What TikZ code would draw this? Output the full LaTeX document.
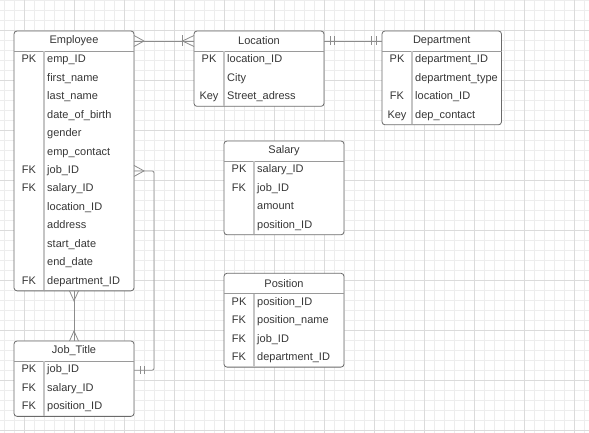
\documentclass[tikz,border=0pt]{standalone}
\usepackage{fontspec}
\setmainfont{Liberation Sans}
\usetikzlibrary{calc}
\definecolor{gridminor}{HTML}{EDEDED}
\definecolor{gridmajor}{HTML}{DBDBDB}
\definecolor{boxborder}{HTML}{6A6A6A}
\definecolor{headsep}{HTML}{9A9A9A}
\definecolor{colsep}{HTML}{C4C4C4}
\definecolor{txt}{HTML}{363636}
\definecolor{connclr}{HTML}{8C8C8C}
\tikzset{
  tablebox/.style={draw=boxborder, fill=white, line width=0.8pt, rounded corners=3pt, inner sep=0pt, outer sep=0pt},
  tabletext/.style={text=txt, inner sep=0pt, font=\fontsize{11}{13}\selectfont},
  headline/.style={draw=headsep, line width=0.8pt},
  colline/.style={draw=colsep, line width=1.1pt},
  conn/.style={draw=connclr, line width=0.8pt},
  gridthin/.style={draw=gridminor, line width=0.8pt},
  gridthick/.style={draw=gridmajor, line width=0.8pt},
}
% #1 name, #2 left, #3 top, #4 width, #5 rows, #6 title, #7 key/field list
\newcommand\ertable[7]{%
  \pgfmathsetmacro\erth{20+18.45*#5}%
  \node[tablebox, minimum width=#4pt, minimum height=\erth pt, anchor=north west] (#1) at (#2,#3) {};
  \node[tabletext] (#1-title) at ($(#1.north)+(0,10)$) {#6};
  \draw[headline] (#2,#3+20) -- (#2+#4,#3+20);
  \draw[colline] (#2+30,#3+20.4) -- (#2+30,#3+\erth-0.4);
  \foreach \k/\f [count=\i] in {#7} {
    \node[tabletext] (#1-k\i) at (#2+15,#3+20+18.45*\i-9.22) {\strut\k};
    \node[tabletext, anchor=west] (#1-r\i) at (#2+33,#3+20+18.45*\i-9.22) {\strut\f};
  }
}
\begin{document}
\begin{tikzpicture}[x=1pt,y=-1pt]
\useasboundingbox (0,0) rectangle (589,433);
\fill[white] (0,0) rectangle (589,433);
% grid
\foreach \gx in {0,...,58} \draw[gridthin] (4.3+10*\gx,0) -- (4.3+10*\gx,433);
\foreach \gy in {0,...,43} \draw[gridthin] (0,10*\gy) -- (589,10*\gy);
\foreach \gx in {0,...,11} \draw[gridthick] (24.3+50*\gx,0) -- (24.3+50*\gx,433);
\foreach \gy in {0,...,8} \draw[gridthick] (0,30+50*\gy) -- (589,30+50*\gy);

% tables
\ertable{emp}{14}{31}{120}{13}{Employee}{PK/emp\_ID, {}/first\_name, {}/last\_name, {}/date\_of\_birth, {}/gender, {}/emp\_contact, FK/job\_ID, FK/salary\_ID, {}/location\_ID, {}/address, {}/start\_date, {}/end\_date, FK/department\_ID}
\ertable{loc}{194}{31}{130}{3}{Location}{PK/location\_ID, {}/City, Key/Street\_adress}
\ertable{dept}{382}{31}{119.5}{4}{Department}{PK/department\_ID, {}/department\_type, FK/location\_ID, Key/dep\_contact}
\ertable{sal}{224}{141}{120}{4}{Salary}{PK/salary\_ID, FK/job\_ID, {}/amount, {}/position\_ID}
\ertable{pos}{224}{273.3}{120}{4}{Position}{PK/position\_ID, FK/position\_name, FK/job\_ID, FK/department\_ID}
\ertable{jt}{14}{341}{120}{3}{Job\_Title}{PK/job\_ID, FK/salary\_ID, FK/position\_ID}

% connector Employee -- Location
\coordinate (c1a) at ($(emp.north east)+(0,10)$);
\coordinate (c1b) at ($(loc.north west)+(0,10)$);
\draw[conn] (c1a) -- (c1b);
\draw[conn] ($(c1a)+(0,-5.5)$) -- ($(c1a)+(10,0)$) -- ($(c1a)+(0,5.5)$);
\draw[conn] ($(c1b)+(-11.5,-5.5)$) -- ($(c1b)+(-11.5,5.5)$);
\draw[conn] ($(c1b)+(0,-5.5)$) -- ($(c1b)+(-11.5,0)$) -- ($(c1b)+(0,5.5)$);

% connector Location -- Department
\coordinate (c2a) at ($(loc.north east)+(0,10)$);
\coordinate (c2b) at ($(dept.north west)+(0,10)$);
\draw[conn] (c2a) -- (c2b);
\draw[conn] ($(c2a)+(6,-4.5)$) -- ($(c2a)+(6,4.5)$);
\draw[conn] ($(c2a)+(10.5,-4.5)$) -- ($(c2a)+(10.5,4.5)$);
\draw[conn] ($(c2b)+(-6,-4.5)$) -- ($(c2b)+(-6,4.5)$);
\draw[conn] ($(c2b)+(-10.5,-4.5)$) -- ($(c2b)+(-10.5,4.5)$);

% connector Employee.job_ID -- Job_Title.job_ID
\coordinate (c3a) at (emp-r7 -| emp.east);
\coordinate (c3b) at (jt-r1 -| jt.east);
\draw[conn, rounded corners=2pt] (c3a) -- ($(c3a)+(20,0)$) |- (c3b);
\draw[conn] ($(c3a)+(0,-5.5)$) -- ($(c3a)+(10,0)$) -- ($(c3a)+(0,5.5)$);
\draw[conn] ($(c3b)+(6,-4.2)$) -- ($(c3b)+(6,4.2)$);
\draw[conn] ($(c3b)+(10.2,-4.2)$) -- ($(c3b)+(10.2,4.2)$);

% connector Employee -- Job_Title (vertical)
\coordinate (c4a) at (emp.south);
\coordinate (c4b) at (jt.north);
\draw[conn] (c4a) -- (c4b);
\draw[conn] ($(c4a)+(-4.5,0)$) -- ($(c4a)+(0,10)$) -- ($(c4a)+(4.5,0)$);
\draw[conn] ($(c4b)+(-4.5,0)$) -- ($(c4b)+(0,-10)$) -- ($(c4b)+(4.5,0)$);
\end{tikzpicture}
\end{document}
